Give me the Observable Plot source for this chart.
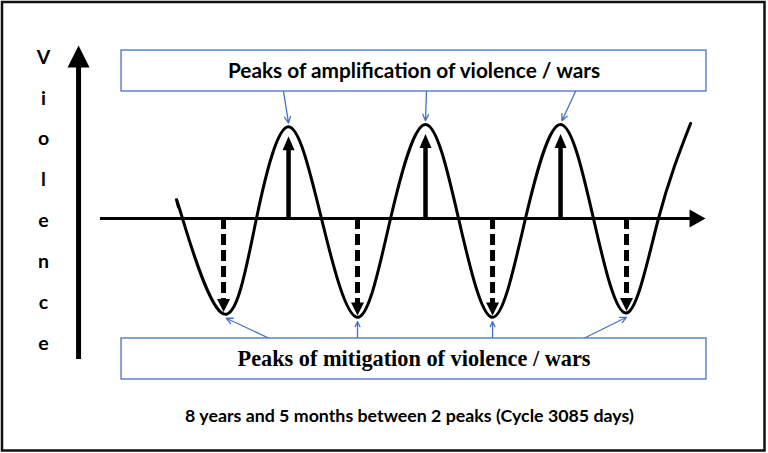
<!DOCTYPE html>
<html><head><meta charset="utf-8">
<script src="https://cdn.jsdelivr.net/npm/d3@7"></script>
<script src="https://cdn.jsdelivr.net/npm/@observablehq/plot@0.6"></script>
<style>body{margin:0;background:#fff}</style>
</head><body><div id="chart"></div>
<script>
// ---- data (x in cycles between peaks, y in relative violence) ----
const curveT = [0.184,0.213,0.515,0.757,0.993,1.235,1.5,1.743,2.0,2.243,2.493,2.735,2.993,3.235,3.478,3.713,3.949];
const curveV = [0.116,0,-1.005,0,0.965,0,-1.04,0,0.99,0,-1.04,0,0.99,0,-0.995,0,1.0];
const peakT = [0.993, 2.0, 2.993];
const peakV = [0.965, 0.99, 0.99];
const troughT = [0.515, 1.5, 2.493, 3.478];
const troughV = [-1.005, -1.04, -1.04, -0.995];
const axisLetters = ["V","i","o","l","e","n","c","e"];
const topLabel = "Peaks of amplification of violence / wars";
const bottomLabel = "Peaks of mitigation of violence / wars";
const caption = "8 years and 5 months between 2 peaks (Cycle 3085 days)";
// callout arrows: from box edge to peaks / troughs
const topCalloutFrom = [0.956, 2.007, 3.103];
const bottomCalloutFrom = [0.853, 1.5, 2.493, 3.162];

// ---- layout ----
const W = 768, H = 453;
const xDomain = [-1.125, 4.522];
const yDomain = [-2.474, 2.295];
const pxV = H / (yDomain[1] - yDomain[0]);
const pxT = W / (xDomain[1] - xDomain[0]);
const xAxisSpan = [-0.39, 4.059];
const yAxisX = -0.551, yAxisSpan = [-1.484, 1.821];
const topBox = {x1: -0.235, x2: 4.066, y1: 1.337, y2: 1.768};
const botBox = {x1: -0.235, x2: 4.066, y1: -1.263, y2: -1.695};
const blue = "#4472C4";

function head(w, h) {
  return {draw(ctx) { ctx.moveTo(0, 0); ctx.lineTo(-w / 2, h); ctx.lineTo(w / 2, h); ctx.closePath(); }};
}

const curve = curveT.map((t, i) => ({t, v: curveV[i]}));
const peaks = peakT.map((t, i) => ({t, v: peakV[i], tip: peakV[i] - 0.1}));
const troughs = troughT.map((t, i) => ({t, v: troughV[i], tip: troughV[i] + 0.02}));
const topCallouts = peaks.map((p, i) => ({x1: topCalloutFrom[i], y1: topBox.y1, x2: p.t + (topCalloutFrom[i] > p.t + 0.05 ? 0.01 : 0), y2: p.v + 0.04}));
const botCallouts = troughs.map((p, i) => ({x1: bottomCalloutFrom[i], y1: botBox.y1, x2: p.t + (bottomCalloutFrom[i] > p.t + 0.05 ? 0.02 : 0), y2: p.v - 0.045}));
const letters = axisLetters.map((s, i) => ({s, i}));

const chart = Plot.plot({
  width: W, height: H, margin: 0,
  x: {domain: xDomain, axis: null},
  y: {domain: yDomain, axis: null},
  style: {background: "white"},
  marks: [
    Plot.frame({stroke: "#111", strokeWidth: 2.5, insetLeft: 1.5, insetTop: 1.5, insetRight: 4, insetBottom: 3}),
    // x axis
    Plot.ruleY([0], {x1: xAxisSpan[0], x2: xAxisSpan[1] - 14 / pxT, strokeWidth: 3, stroke: "black"}),
    Plot.dot([0], {x: () => xAxisSpan[1], y: 0, symbol: head(18, 16), rotate: 90, fill: "black", stroke: null}),
    // y axis
    Plot.ruleX([yAxisX], {y1: yAxisSpan[0], y2: yAxisSpan[1] - 21 / pxV, strokeWidth: 5, stroke: "black"}),
    Plot.dot([0], {x: () => yAxisX, y: () => yAxisSpan[1], symbol: head(22, 22), fill: "black", stroke: null}),
    // curve
    Plot.line(curve, {x: "t", y: "v", curve: "natural", stroke: "black", strokeWidth: 3}),
    // peak arrows
    Plot.ruleX(peaks, {x: "t", y1: 0, y2: d => d.tip - 13 / pxV, stroke: "black", strokeWidth: 4.5}),
    Plot.dot(peaks, {x: "t", y: "tip", symbol: head(12, 14), fill: "black", stroke: null}),
    // trough dashed arrows
    Plot.ruleX(troughs, {x: "t", y1: 0, y2: d => d.tip + 12 / pxV, stroke: "black", strokeWidth: 5, strokeDasharray: "11,5"}),
    Plot.dot(troughs, {x: "t", y: "tip", symbol: head(13, 13), rotate: 180, fill: "black", stroke: null}),
    // callouts
    Plot.arrow(topCallouts, {x1: "x1", y1: "y1", x2: "x2", y2: "y2", stroke: blue, strokeWidth: 1.3, headLength: 8, headAngle: 50}),
    Plot.arrow(botCallouts, {x1: "x1", y1: "y1", x2: "x2", y2: "y2", stroke: blue, strokeWidth: 1.3, headLength: 8, headAngle: 50}),
    // boxes
    Plot.rect([topBox], {x1: "x1", x2: "x2", y1: "y1", y2: "y2", fill: "white", stroke: blue, strokeWidth: 1.3}),
    Plot.rect([botBox], {x1: "x1", x2: "x2", y1: "y1", y2: "y2", fill: "white", stroke: blue, strokeWidth: 1.3}),
    Plot.text([topLabel], {x: (topBox.x1 + topBox.x2) / 2, y: (topBox.y1 + topBox.y2) / 2, text: d => d, fontFamily: "Lato", fontWeight: "bold", fontSize: 20.8, fill: "black"}),
    Plot.text([bottomLabel], {x: (botBox.x1 + botBox.x2) / 2, y: (botBox.y1 + botBox.y2) / 2, text: d => d, fontFamily: "Liberation Serif", fontWeight: "bold", fontSize: 22.3, fill: "black"}),
    Plot.text([caption], {x: 1.882, y: -2.085, text: d => d, fontFamily: "Lato", fontWeight: "bold", fontSize: 17.8, fill: "black"}),
    // vertical label letters
    Plot.text(letters, {x: -0.809, y: d => 1.695 - d.i * 0.43, text: "s", fontFamily: "Lato", fontWeight: "bold", fontSize: 19.5, fill: "black"})
  ]
});
document.getElementById("chart").append(chart);
</script>
</body></html>
